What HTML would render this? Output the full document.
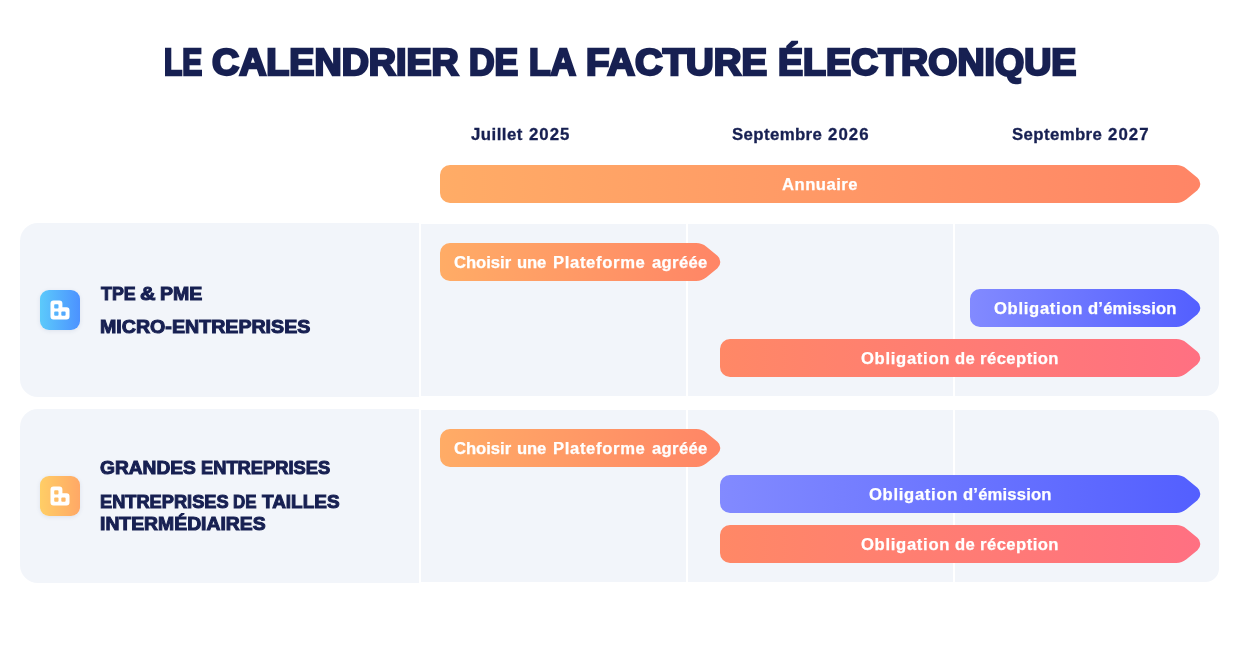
<!DOCTYPE html>
<html lang="fr"><head><meta charset="utf-8"><title>Le calendrier de la facture électronique</title>
<style>
html,body{margin:0;padding:0;background:#fff}
body{width:1240px;height:660px;position:relative;overflow:hidden;font-family:"Liberation Sans",sans-serif;color:#172052}
.cell{position:absolute;background:#F2F5FA}
.bar{position:absolute;overflow:visible}
.ico{position:absolute;width:40px;height:40px;border-radius:9px;box-shadow:0 1px 4px rgba(40,60,120,.10)}
.ico svg{display:block}
.t{position:absolute;white-space:nowrap;font-weight:700;line-height:0;height:0;transform-origin:0 0}
.h1{-webkit-text-stroke:2.4px #172052}
.lab{-webkit-text-stroke:1.0px #172052}
.dt{-webkit-text-stroke:0.3px #172052}
.bl{color:#fff;-webkit-text-stroke:0.25px #fff}
.p{margin:0;font-size:0}
</style></head><body>
<h1 class="p"><span class="t h1" id="t1" style="left:163.58px;top:63.33px;font-size:36px;transform:scaleX(0.8301)">LE</span> <span class="t h1" id="t2" style="left:211.57px;top:63.33px;font-size:36px;transform:scaleX(1.0457)">CALENDRIER</span> <span class="t h1" id="t3" style="left:468.88px;top:63.33px;font-size:36px;transform:scaleX(0.9837)">DE</span> <span class="t h1" id="t4" style="left:528.71px;top:63.33px;font-size:36px;transform:scaleX(0.9804)">LA</span> <span class="t h1" id="t5" style="left:585.63px;top:63.33px;font-size:36px;transform:scaleX(1.0651)">FACTURE</span> <span class="t h1" id="t6" style="left:777.72px;top:63.33px;font-size:36px;transform:scaleX(1.0433)">ÉLECTRONIQUE</span></h1>
<p class="p"><span class="t dt" id="d1a" style="left:470.71px;top:135.06px;font-size:16px;letter-spacing:0.452px;transform:scaleX(1.05)">Juillet</span> <span class="t dt" id="d1b" style="left:528.67px;top:135.06px;font-size:16px;letter-spacing:0.975px;transform:scaleX(1.05)">2025</span></p><p class="p"><span class="t dt" id="d2a" style="left:732.11px;top:135.06px;font-size:16px;letter-spacing:0.362px;transform:scaleX(1.05)">Septembre</span> <span class="t dt" id="d2b" style="left:827.93px;top:135.06px;font-size:16px;letter-spacing:0.987px;transform:scaleX(1.05)">2026</span></p><p class="p"><span class="t dt" id="d3a" style="left:1012.11px;top:135.06px;font-size:16px;letter-spacing:0.362px;transform:scaleX(1.05)">Septembre</span> <span class="t dt" id="d3b" style="left:1107.96px;top:135.06px;font-size:16px;letter-spacing:1.008px;transform:scaleX(1.05)">2027</span></p>
<svg class="bar" style="left:440px;top:165px" width="762" height="38" viewBox="0 0 762 38"><defs><linearGradient id="g0" x1="0" y1="0" x2="1" y2="0"><stop offset="0" stop-color="#FFAC66"/><stop offset="1" stop-color="#FF8566"/></linearGradient></defs><path d="M0.00,10.00 A10.00,10.00 0 0 1 10.00,0.00 L736.21,0.00 A16.00,16.00 0 0 1 746.45,3.71 L757.43,12.85 A8.00,8.00 0 0 1 757.43,25.15 L746.45,34.29 A16.00,16.00 0 0 1 736.21,38.00 L10.00,38.00 A10.00,10.00 0 0 1 0.00,28.00 Z" fill="url(#g0)"/></svg><span class="t bl" id="b0" style="left:782.13px;top:184.66px;font-size:16px;letter-spacing:0.472px;transform:scaleX(1.04)">Annuaire</span>

<div class="cell" style="left:20px;top:223px;width:399px;height:174px;border-radius:18px 0 0 18px"></div>
<div class="cell" style="left:421px;top:224px;width:265px;height:172px"></div>
<div class="cell" style="left:688px;top:224px;width:264.5px;height:172px"></div>
<div class="cell" style="left:954.5px;top:224px;width:264.5px;height:172px;border-radius:0 13.5px 13.5px 0"></div>

<div class="cell" style="left:20px;top:409px;width:399px;height:174px;border-radius:18px 0 0 18px"></div>
<div class="cell" style="left:421px;top:410px;width:265px;height:172px"></div>
<div class="cell" style="left:688px;top:410px;width:264.5px;height:172px"></div>
<div class="cell" style="left:954.5px;top:410px;width:264.5px;height:172px;border-radius:0 13.5px 13.5px 0"></div>

<div class="ico" style="left:40px;top:290px">
<svg width="40" height="40" viewBox="0 0 40 40"><defs><linearGradient id="gi1" x1="0" y1="0" x2="1" y2="0"><stop offset="0" stop-color="#5CCAFB"/><stop offset="1" stop-color="#4C92FF"/></linearGradient></defs>
<rect width="40" height="40" rx="9" fill="url(#gi1)"/>
<path fill="#fff" fill-rule="evenodd" d="M13.5,10.5 H19.4 A3,3 0 0 1 22.4,13.5 V17.3 H26.5 A3,3 0 0 1 29.5,20.3 V26.5 A3,3 0 0 1 26.5,29.5 H13.5 A3,3 0 0 1 10.5,26.5 V13.5 A3,3 0 0 1 13.5,10.5 Z
M15.1,14.2 h2.5 a0.9,0.9 0 0 1 0.9,0.9 v2.5 a0.9,0.9 0 0 1 -0.9,0.9 h-2.5 a0.9,0.9 0 0 1 -0.9,-0.9 v-2.5 a0.9,0.9 0 0 1 0.9,-0.9 Z
M15.1,21.4 h2.5 a0.9,0.9 0 0 1 0.9,0.9 v2.5 a0.9,0.9 0 0 1 -0.9,0.9 h-2.5 a0.9,0.9 0 0 1 -0.9,-0.9 v-2.5 a0.9,0.9 0 0 1 0.9,-0.9 Z
M22.2,21.4 h2.5 a0.9,0.9 0 0 1 0.9,0.9 v2.5 a0.9,0.9 0 0 1 -0.9,0.9 h-2.5 a0.9,0.9 0 0 1 -0.9,-0.9 v-2.5 a0.9,0.9 0 0 1 0.9,-0.9 Z"/>
</svg></div>
<p class="p"><span class="t lab" id="l1a" style="left:100.65px;top:293.69px;font-size:18.2px;transform:scaleX(0.9803)">TPE</span> <span class="t lab" id="l1b" style="left:139.60px;top:293.69px;font-size:18.2px;transform:scaleX(1.1863)">&amp;</span> <span class="t lab" id="l1c" style="left:159.63px;top:293.69px;font-size:18.2px;transform:scaleX(1.0744)">PME</span></p><p class="p"><span class="t lab" id="l2" style="left:99.83px;top:327.49px;font-size:18.2px;transform:scaleX(1.0784)">MICRO-ENTREPRISES</span></p>
<div class="ico" style="left:40px;top:476px">
<svg width="40" height="40" viewBox="0 0 40 40"><defs><linearGradient id="gi2" x1="0" y1="0" x2="1" y2="0"><stop offset="0" stop-color="#FFCE66"/><stop offset="1" stop-color="#FFA866"/></linearGradient></defs>
<rect width="40" height="40" rx="9" fill="url(#gi2)"/>
<path fill="#fff" fill-rule="evenodd" d="M13.5,10.5 H19.4 A3,3 0 0 1 22.4,13.5 V17.3 H26.5 A3,3 0 0 1 29.5,20.3 V26.5 A3,3 0 0 1 26.5,29.5 H13.5 A3,3 0 0 1 10.5,26.5 V13.5 A3,3 0 0 1 13.5,10.5 Z
M15.1,14.2 h2.5 a0.9,0.9 0 0 1 0.9,0.9 v2.5 a0.9,0.9 0 0 1 -0.9,0.9 h-2.5 a0.9,0.9 0 0 1 -0.9,-0.9 v-2.5 a0.9,0.9 0 0 1 0.9,-0.9 Z
M15.1,21.4 h2.5 a0.9,0.9 0 0 1 0.9,0.9 v2.5 a0.9,0.9 0 0 1 -0.9,0.9 h-2.5 a0.9,0.9 0 0 1 -0.9,-0.9 v-2.5 a0.9,0.9 0 0 1 0.9,-0.9 Z
M22.2,21.4 h2.5 a0.9,0.9 0 0 1 0.9,0.9 v2.5 a0.9,0.9 0 0 1 -0.9,0.9 h-2.5 a0.9,0.9 0 0 1 -0.9,-0.9 v-2.5 a0.9,0.9 0 0 1 0.9,-0.9 Z"/>
</svg></div>
<p class="p"><span class="t lab" id="l3a" style="left:100.10px;top:468.49px;font-size:18.2px;transform:scaleX(1.0545)">GRANDES</span> <span class="t lab" id="l3b" style="left:201.46px;top:468.49px;font-size:18.2px;transform:scaleX(1.0062)">ENTREPRISES</span></p><p class="p"><span class="t lab" id="l4a" style="left:99.96px;top:502.49px;font-size:18.2px;transform:scaleX(1.0020)">ENTREPRISES</span> <span class="t lab" id="l4b" style="left:233.49px;top:502.49px;font-size:18.2px;transform:scaleX(0.9298)">DE</span> <span class="t lab" id="l4c" style="left:262.12px;top:502.49px;font-size:18.2px;transform:scaleX(1.0416)">TAILLES</span> <span class="t lab" id="l5" style="left:99.86px;top:524.49px;font-size:18.2px;transform:scaleX(1.0646)">INTERMÉDIAIRES</span></p>

<svg class="bar" style="left:440px;top:243px" width="282" height="38" viewBox="0 0 282 38"><defs><linearGradient id="g1" x1="0" y1="0" x2="1" y2="0"><stop offset="0" stop-color="#FFAC66"/><stop offset="1" stop-color="#FF8566"/></linearGradient></defs><path d="M0.00,10.00 A10.00,10.00 0 0 1 10.00,0.00 L256.21,0.00 A16.00,16.00 0 0 1 266.45,3.71 L277.43,12.85 A8.00,8.00 0 0 1 277.43,25.15 L266.45,34.29 A16.00,16.00 0 0 1 256.21,38.00 L10.00,38.00 A10.00,10.00 0 0 1 0.00,28.00 Z" fill="url(#g1)"/></svg><p class="p"><span class="t bl" id="b1a" style="left:453.59px;top:262.66px;font-size:16px;letter-spacing:-0.029px;transform:scaleX(1.04)">Choisir</span> <span class="t bl" id="b1b" style="left:516.79px;top:262.66px;font-size:16px;letter-spacing:-0.123px;transform:scaleX(1.04)">une</span> <span class="t bl" id="b1c" style="left:552.70px;top:262.66px;font-size:16px;letter-spacing:0.624px;transform:scaleX(1.04)">Plateforme</span> <span class="t bl" id="b1d" style="left:651.61px;top:262.66px;font-size:16px;letter-spacing:0.326px;transform:scaleX(1.04)">agréée</span></p>
<svg class="bar" style="left:970px;top:289px" width="232" height="38" viewBox="0 0 232 38"><defs><linearGradient id="g2" x1="0" y1="0" x2="1" y2="0"><stop offset="0" stop-color="#828AFF"/><stop offset="1" stop-color="#535FFF"/></linearGradient></defs><path d="M0.00,10.00 A10.00,10.00 0 0 1 10.00,0.00 L206.21,0.00 A16.00,16.00 0 0 1 216.45,3.71 L227.43,12.85 A8.00,8.00 0 0 1 227.43,25.15 L216.45,34.29 A16.00,16.00 0 0 1 206.21,38.00 L10.00,38.00 A10.00,10.00 0 0 1 0.00,28.00 Z" fill="url(#g2)"/></svg><p class="p"><span class="t bl" id="b2a" style="left:993.58px;top:308.66px;font-size:16px;letter-spacing:0.654px;transform:scaleX(1.04)">Obligation</span> <span class="t bl" id="b2b" style="left:1087.55px;top:308.66px;font-size:16px;letter-spacing:0.171px;transform:scaleX(1.04)">d’émission</span></p>
<svg class="bar" style="left:720px;top:339px" width="482" height="38" viewBox="0 0 482 38"><defs><linearGradient id="g3" x1="0" y1="0" x2="1" y2="0"><stop offset="0" stop-color="#FF8866"/><stop offset="1" stop-color="#FF7082"/></linearGradient></defs><path d="M0.00,10.00 A10.00,10.00 0 0 1 10.00,0.00 L456.21,0.00 A16.00,16.00 0 0 1 466.45,3.71 L477.43,12.85 A8.00,8.00 0 0 1 477.43,25.15 L466.45,34.29 A16.00,16.00 0 0 1 456.21,38.00 L10.00,38.00 A10.00,10.00 0 0 1 0.00,28.00 Z" fill="url(#g3)"/></svg><p class="p"><span class="t bl" id="b3a" style="left:860.88px;top:358.66px;font-size:16px;letter-spacing:0.654px;transform:scaleX(1.04)">Obligation</span> <span class="t bl" id="b3b" style="left:955.00px;top:358.66px;font-size:16px;letter-spacing:0.271px;transform:scaleX(1.04)">de</span> <span class="t bl" id="b3c" style="left:979.69px;top:358.66px;font-size:16px;letter-spacing:0.436px;transform:scaleX(1.04)">réception</span></p>
<svg class="bar" style="left:440px;top:429px" width="282" height="38" viewBox="0 0 282 38"><defs><linearGradient id="g4" x1="0" y1="0" x2="1" y2="0"><stop offset="0" stop-color="#FFAC66"/><stop offset="1" stop-color="#FF8566"/></linearGradient></defs><path d="M0.00,10.00 A10.00,10.00 0 0 1 10.00,0.00 L256.21,0.00 A16.00,16.00 0 0 1 266.45,3.71 L277.43,12.85 A8.00,8.00 0 0 1 277.43,25.15 L266.45,34.29 A16.00,16.00 0 0 1 256.21,38.00 L10.00,38.00 A10.00,10.00 0 0 1 0.00,28.00 Z" fill="url(#g4)"/></svg><p class="p"><span class="t bl" id="b4a" style="left:453.59px;top:448.66px;font-size:16px;letter-spacing:-0.029px;transform:scaleX(1.04)">Choisir</span> <span class="t bl" id="b4b" style="left:516.79px;top:448.66px;font-size:16px;letter-spacing:-0.123px;transform:scaleX(1.04)">une</span> <span class="t bl" id="b4c" style="left:552.70px;top:448.66px;font-size:16px;letter-spacing:0.624px;transform:scaleX(1.04)">Plateforme</span> <span class="t bl" id="b4d" style="left:651.61px;top:448.66px;font-size:16px;letter-spacing:0.326px;transform:scaleX(1.04)">agréée</span></p>
<svg class="bar" style="left:720px;top:475px" width="482" height="38" viewBox="0 0 482 38"><defs><linearGradient id="g5" x1="0" y1="0" x2="1" y2="0"><stop offset="0" stop-color="#828AFF"/><stop offset="1" stop-color="#535FFF"/></linearGradient></defs><path d="M0.00,10.00 A10.00,10.00 0 0 1 10.00,0.00 L456.21,0.00 A16.00,16.00 0 0 1 466.45,3.71 L477.43,12.85 A8.00,8.00 0 0 1 477.43,25.15 L466.45,34.29 A16.00,16.00 0 0 1 456.21,38.00 L10.00,38.00 A10.00,10.00 0 0 1 0.00,28.00 Z" fill="url(#g5)"/></svg><p class="p"><span class="t bl" id="b5a" style="left:868.58px;top:494.66px;font-size:16px;letter-spacing:0.654px;transform:scaleX(1.04)">Obligation</span> <span class="t bl" id="b5b" style="left:962.55px;top:494.66px;font-size:16px;letter-spacing:0.171px;transform:scaleX(1.04)">d’émission</span></p>
<svg class="bar" style="left:720px;top:525px" width="482" height="38" viewBox="0 0 482 38"><defs><linearGradient id="g6" x1="0" y1="0" x2="1" y2="0"><stop offset="0" stop-color="#FF8866"/><stop offset="1" stop-color="#FF7082"/></linearGradient></defs><path d="M0.00,10.00 A10.00,10.00 0 0 1 10.00,0.00 L456.21,0.00 A16.00,16.00 0 0 1 466.45,3.71 L477.43,12.85 A8.00,8.00 0 0 1 477.43,25.15 L466.45,34.29 A16.00,16.00 0 0 1 456.21,38.00 L10.00,38.00 A10.00,10.00 0 0 1 0.00,28.00 Z" fill="url(#g6)"/></svg><p class="p"><span class="t bl" id="b6a" style="left:860.88px;top:544.66px;font-size:16px;letter-spacing:0.654px;transform:scaleX(1.04)">Obligation</span> <span class="t bl" id="b6b" style="left:955.00px;top:544.66px;font-size:16px;letter-spacing:0.271px;transform:scaleX(1.04)">de</span> <span class="t bl" id="b6c" style="left:979.69px;top:544.66px;font-size:16px;letter-spacing:0.436px;transform:scaleX(1.04)">réception</span></p>
</body></html>
